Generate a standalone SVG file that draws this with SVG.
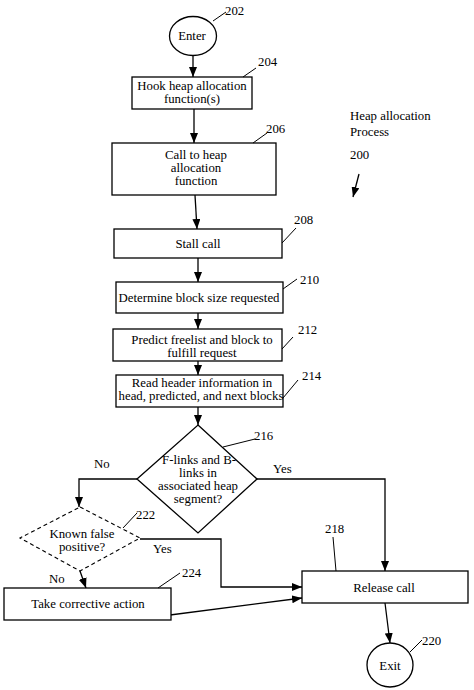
<svg xmlns="http://www.w3.org/2000/svg" width="474" height="690" viewBox="0 0 474 690">
<defs>
<marker id="arr" markerUnits="userSpaceOnUse" markerWidth="10" markerHeight="8" refX="10" refY="4" orient="auto">
<path d="M0,0 L10,4 L0,8 z" fill="#000"/>
</marker>
</defs>
<style>
text{font-family:"Liberation Serif","Times New Roman",serif;font-size:12.8px;fill:#000}
.c{text-anchor:middle}
.shape{fill:#fff;stroke:#000;stroke-width:1.3}
.dash{fill:#fff;stroke:#000;stroke-width:1.1;stroke-dasharray:4,3}
.conn{fill:none;stroke:#000;stroke-width:1.3;marker-end:url(#arr)}
.lead{fill:none;stroke:#000;stroke-width:1}
</style>
<rect width="474" height="690" fill="#fff"/>

<g id="connectors">
<path class="conn" d="M193,55 L193,77"/>
<path class="conn" d="M194,109 L194,143"/>
<path class="conn" d="M195,195 L197,229"/>
<path class="conn" d="M198,258 L198,282"/>
<path class="conn" d="M198,313 L198,329"/>
<path class="conn" d="M198,361 L198,375"/>
<path class="conn" d="M198,407 L198,425"/>
<path class="conn" d="M137,479 L79,479 L79,507"/>
<path class="conn" d="M257,479 L385,479 L385,571"/>
<path class="conn" d="M140,539 L221,539 L221,587 L302,587"/>
<path class="conn" d="M80,571 L86,588"/>
<path class="conn" d="M170,615 L302,598"/>
<path class="conn" d="M385,603 L390,643"/>
<path class="conn" d="M359,174 L353,197"/>
</g>

<g id="n202">
<ellipse class="shape" cx="193" cy="36" rx="23.5" ry="19.5"/>
<text class="c" x="192" y="40">Enter</text>
<path class="lead" d="M213,21 L226,12"/>
<text x="225" y="15">202</text>
</g>

<g id="n204">
<rect class="shape" x="132" y="77" width="120" height="32"/>
<text class="c" x="192" y="90">Hook heap allocation</text>
<text class="c" x="192" y="103">function(s)</text>
<path class="lead" d="M243,77 L256,68"/>
<text x="258" y="66">204</text>
</g>

<g id="n206">
<rect class="shape" x="112" y="143" width="164" height="52"/>
<text class="c" x="196" y="159">Call to heap</text>
<text class="c" x="196" y="172">allocation</text>
<text class="c" x="196" y="185">function</text>
<path class="lead" d="M253,143 L267,133"/>
<text x="266" y="133">206</text>
</g>

<g id="n208">
<rect class="shape" x="114" y="229" width="168" height="29"/>
<text class="c" x="198" y="248">Stall call</text>
<path class="lead" d="M282,243 L296,228"/>
<text x="294" y="224">208</text>
</g>

<g id="n210">
<rect class="shape" x="116" y="282" width="167" height="31"/>
<text class="c" x="199" y="302">Determine block size requested</text>
<path class="lead" d="M283,289 L297,279"/>
<text x="300" y="284">210</text>
</g>

<g id="n212">
<rect class="shape" x="113" y="329" width="169" height="32"/>
<text class="c" x="202" y="344">Predict freelist and block to</text>
<text class="c" x="202" y="357">fulfill request</text>
<path class="lead" d="M282,349 L293,337"/>
<text x="298" y="334">212</text>
</g>

<g id="n214">
<rect class="shape" x="116" y="375" width="167" height="32"/>
<text class="c" x="202" y="387">Read header information in</text>
<text class="c" x="201" y="400">head, predicted, and next blocks</text>
<path class="lead" d="M283,398 L298,380"/>
<text x="302" y="380">214</text>
</g>

<g id="n216">
<polygon class="shape" points="198,425 257,479 198,533 137,479"/>
<text class="c" x="199" y="464">F-links and B-</text>
<text class="c" x="198" y="477">links in</text>
<text class="c" x="198" y="490">associated heap</text>
<text class="c" x="198" y="503">segment?</text>
<path class="lead" d="M223,447 L255,439"/>
<text x="254" y="440">216</text>
<text x="94" y="468">No</text>
<text x="273" y="473">Yes</text>
</g>

<g id="n222">
<polygon class="dash" points="80,507 140,538 80,571 20,538"/>
<text class="c" x="82" y="538">Known false</text>
<text class="c" x="82" y="551">positive?</text>
<path class="lead" d="M123,528 L137,513"/>
<text x="136" y="519">222</text>
<text x="153" y="553">Yes</text>
<text x="49" y="583">No</text>
</g>

<g id="n224">
<rect class="shape" x="4" y="588" width="167" height="32"/>
<text class="c" x="88" y="608">Take corrective action</text>
<path class="lead" d="M158,588 L180,573"/>
<text x="182" y="577">224</text>
</g>

<g id="n218">
<rect class="shape" x="302" y="571" width="166" height="32"/>
<text class="c" x="384" y="592">Release call</text>
<path class="lead" d="M333,537 L336,571"/>
<text x="325" y="533">218</text>
</g>

<g id="n220">
<ellipse class="shape" cx="390" cy="665" rx="23" ry="22"/>
<text class="c" x="390" y="670">Exit</text>
<path class="lead" d="M410,652 L422,640"/>
<text x="422" y="645">220</text>
</g>

<g id="n200">
<text x="350" y="120">Heap allocation</text>
<text x="350" y="136">Process</text>
<text x="350" y="159">200</text>
</g>
</svg>
